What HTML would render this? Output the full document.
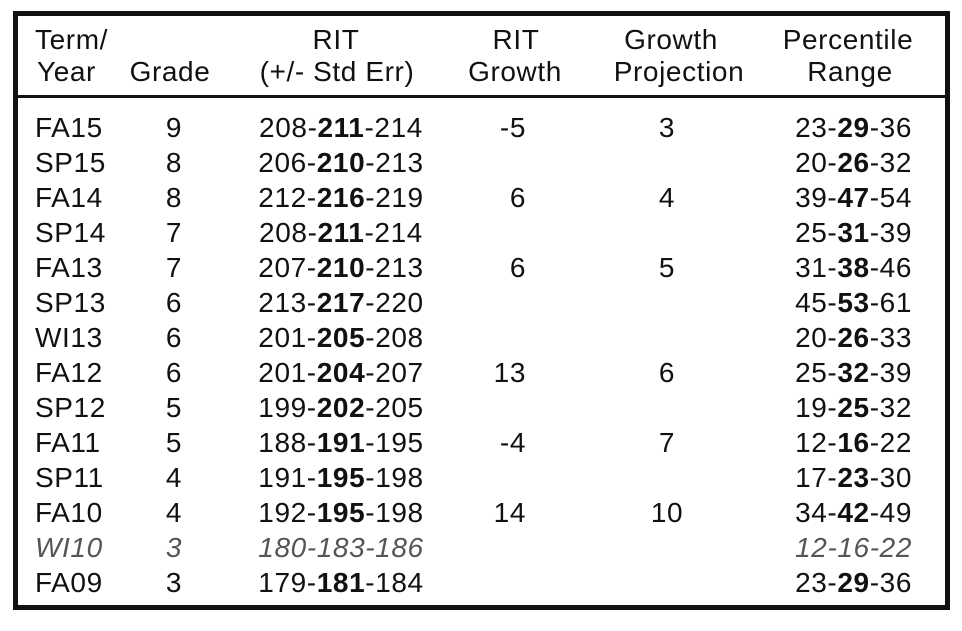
<!DOCTYPE html>
<html><head><meta charset="utf-8"><style>
body{margin:0;width:962px;height:631px;background:#fff;position:relative;overflow:hidden;font-family:"Liberation Sans",Arial,sans-serif;font-size:28px;color:#111;letter-spacing:0.6px}
.box{position:absolute;left:13px;top:11px;width:927px;height:589px;border:5px solid #111}
.hl{position:absolute;left:18px;top:95px;width:927px;height:3px;background:#111}
.t{position:absolute;height:34px;line-height:34px;white-space:nowrap}
.l{text-align:left}.c{text-align:center;width:200px}.r{text-align:right;width:200px}
b{font-weight:bold}
.g{color:#555;font-style:italic}
</style></head><body>
<div class="box"></div><div class="hl"></div>
<div id="h"></div>
<script>
const H=[["Term/",35,40,"l"],["Year",37,72,"l"],["Grade",170,72,"c"],["RIT",336,40,"c"],["(+/- Std Err)",337,72,"c"],["RIT",516,40,"c"],["Growth",515,72,"c"],["Growth",671,40,"c"],["Projection",679,72,"c"],["Percentile",848,40,"c"],["Range",850,72,"c"]];
const R=[["FA15","9","208-<b>211</b>-214","-5","3","23-<b>29</b>-36"],
["SP15","8","206-<b>210</b>-213","","","20-<b>26</b>-32"],
["FA14","8","212-<b>216</b>-219","6","4","39-<b>47</b>-54"],
["SP14","7","208-<b>211</b>-214","","","25-<b>31</b>-39"],
["FA13","7","207-<b>210</b>-213","6","5","31-<b>38</b>-46"],
["SP13","6","213-<b>217</b>-220","","","45-<b>53</b>-61"],
["WI13","6","201-<b>205</b>-208","","","20-<b>26</b>-33"],
["FA12","6","201-<b>204</b>-207","13","6","25-<b>32</b>-39"],
["SP12","5","199-<b>202</b>-205","","","19-<b>25</b>-32"],
["FA11","5","188-<b>191</b>-195","-4","7","12-<b>16</b>-22"],
["SP11","4","191-<b>195</b>-198","","","17-<b>23</b>-30"],
["FA10","4","192-<b>195</b>-198","14","10","34-<b>42</b>-49"],
["WI10","3","180-183-186","","","12-16-22",1],
["FA09","3","179-<b>181</b>-184","","","23-<b>29</b>-36"]];
let s="";
function put(txt,x,y,a,cls){let left=a=="l"?x:a=="c"?x-100:x-200;s+=`<div class="t ${a} ${cls||""}" style="left:${left}px;top:${y-17}px">${txt}</div>`;}
H.forEach(h=>put(h[0],h[1],h[2],h[3]));
R.forEach((r,i)=>{const y=128+i*35,g=r[6]?"g":"";
put(r[0],35,y,"l",g);put(r[1],174,y,"c",g);put(r[2],341,y,"c",g);
if(r[3])put(r[3],526,y,"r");if(r[4])put(r[4],667,y,"c");put(r[5],912,y,"r",g);});
document.getElementById("h").innerHTML=s;
</script>
</body></html>
